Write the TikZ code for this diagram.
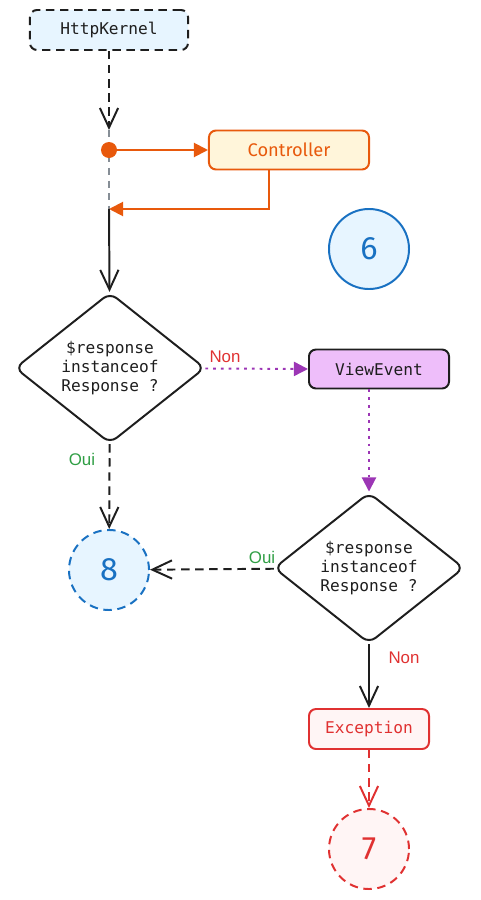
\documentclass[tikz,border=0pt]{standalone}
\usepackage{fontspec}
\setmainfont{Liberation Sans}
\setmonofont{DejaVu Sans Mono}
\newfontfamily\handfont{Fira Sans}
\usetikzlibrary{shapes.geometric,arrows.meta,positioning}
\definecolor{inkcolor}{HTML}{1E1E1E}
\definecolor{kernelfill}{HTML}{E7F5FF}
\definecolor{ctrlcolor}{HTML}{E8590C}
\definecolor{ctrlfill}{HTML}{FFF5DA}
\definecolor{viewfill}{HTML}{EEBEFA}
\definecolor{viewcolor}{HTML}{9C36B5}
\definecolor{stepblue}{HTML}{1971C2}
\definecolor{stepred}{HTML}{E03131}
\definecolor{redfill}{HTML}{FFF5F5}
\definecolor{yescolor}{HTML}{2F9E44}
\definecolor{trackgray}{HTML}{868E96}

\begin{document}
\begin{tikzpicture}[
    x=0.025cm, y=-0.025cm,
    box/.style={rectangle, draw=inkcolor, line width=1.4pt, rounded corners=5pt, align=center, font=\ttfamily\fontsize{11.5}{13.5}\selectfont, text=inkcolor},
    decision/.style={diamond, draw=inkcolor, line width=1.4pt, rounded corners=6pt, inner sep=0pt, minimum width=4.75cm, minimum height=3.75cm, align=center, font=\ttfamily\fontsize{11.5}{13.5}\selectfont, text=inkcolor},
    stepcircle/.style={circle, line width=1.4pt, minimum size=2cm, font=\handfont\fontsize{23}{23}\selectfont},
    answer/.style={font=\fontsize{12}{14}\selectfont},
    arrow/.style={-{Straight Barb[length=14pt, width=13pt, line width=1.4pt]}, line width=1.4pt, draw=inkcolor},
    dasharrow/.style={arrow, dash pattern=on 6pt off 4pt},
    orangearrow/.style={-{Triangle[length=10pt, width=10pt, fill=ctrlcolor]}, line width=1.4pt, draw=ctrlcolor},
    dotarrow/.style={-{Triangle[length=10pt, width=10pt, fill=viewcolor]}, line width=1.4pt, draw=viewcolor, dash pattern=on 2pt off 3.5pt}
]
\useasboundingbox (0,0) rectangle (480,900);

% Kernel and controller
\node[box, fill=kernelfill, dash pattern=on 6pt off 4pt, minimum width=3.95cm, minimum height=1cm] (kernel) at (109,30) {HttpKernel};
\coordinate (entry) at (109,130);
\coordinate (join) at (109,209);
\draw[trackgray, line width=1pt, dash pattern=on 5pt off 4pt] (entry) -- (join);
\node[circle, fill=ctrlcolor, inner sep=0pt, minimum size=0.4cm] (dot) at (109,150) {};
\node[box, draw=ctrlcolor, fill=ctrlfill, text=ctrlcolor, font=\handfont\fontsize{13}{15}\selectfont, minimum width=4cm, minimum height=0.975cm] (ctrl) at (289,150) {Controller};

% Step 6
\node[stepcircle, draw=stepblue, fill=kernelfill, text=stepblue] (six) at (369,249) {6};

% First test
\node[decision] (isresp) at (110,368) {\$response\\instanceof\\Response ?};
\node[box, fill=viewfill, minimum width=3.5cm, minimum height=0.975cm] (viewevt) at (379,369) {ViewEvent};

% Second test
\node[decision] (isresp2) at (369,568) {\$response\\instanceof\\Response ?};
\node[stepcircle, draw=stepblue, fill=kernelfill, text=stepblue, dash pattern=on 6pt off 4pt] (eight) at (109,570) {8};

% Exception
\node[box, draw=stepred, fill=redfill, text=stepred, minimum width=3cm, minimum height=1cm] (excpt) at (369,729) {Exception};
\node[stepcircle, draw=stepred, fill=redfill, text=stepred, dash pattern=on 6pt off 4pt] (seven) at (369,849) {7};

% Labels
\node[answer, text=stepred] (non1) at (225,357) {Non};
\node[answer, text=yescolor] (oui1) at (82,459) {Oui};
\node[answer, text=yescolor] (oui2) at (262,557) {Oui};
\node[answer, text=stepred] (non2) at (404,658) {Non};

% Arrows
\draw[dasharrow] (kernel) -- (entry);
\draw[orangearrow] (dot) -- (ctrl);
\draw[orangearrow] (ctrl.south -| 269,0) |- (join);
\draw[arrow] (join) -- (isresp);
\draw[dotarrow] (isresp) -- (viewevt.west);
\draw[dotarrow] (viewevt.south -| isresp2) -- (isresp2);
\draw[dasharrow] (isresp) -- (eight);
\draw[dasharrow] (isresp2) -- (eight);
\draw[arrow] (isresp2) -- (excpt);
\draw[dasharrow, draw=stepred] (excpt) -- (seven);

\end{tikzpicture}
\end{document}
